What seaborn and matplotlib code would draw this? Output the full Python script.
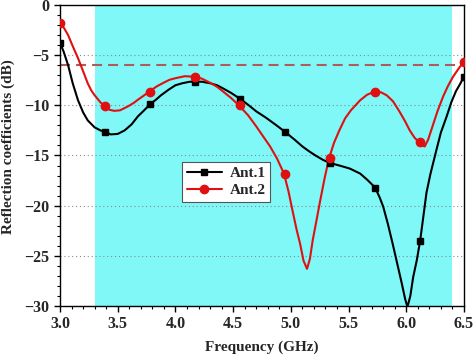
import matplotlib
matplotlib.use("Agg")
import matplotlib.pyplot as plt
from matplotlib.lines import Line2D
from matplotlib.ticker import MultipleLocator
import seaborn as sns

# curves (GHz, dB)
ant1_f = [3.0, 3.03, 3.07, 3.11, 3.156, 3.20, 3.24, 3.30, 3.35, 3.39, 3.44, 3.50,
          3.56, 3.62, 3.675, 3.72, 3.78, 3.83, 3.875, 3.94, 4.0, 4.06, 4.125, 4.17,
          4.23, 4.30, 4.36, 4.41, 4.48, 4.56, 4.63, 4.70, 4.78, 4.87, 4.95, 5.03,
          5.10, 5.16, 5.22, 5.28, 5.34, 5.42, 5.51, 5.60, 5.66, 5.73, 5.77, 5.80,
          5.84, 5.88, 5.92, 5.96, 5.99, 6.01, 6.035, 6.06, 6.09, 6.12, 6.15, 6.175,
          6.21, 6.26, 6.30, 6.35, 6.39, 6.43, 6.47, 6.5]
ant1_db = [-3.8, -4.6, -6.0, -7.8, -9.5, -10.7, -11.5, -12.2, -12.5, -12.66, -12.9, -12.85,
           -12.5, -11.9, -11.1, -10.6, -9.9, -9.45, -9.0, -8.45, -8.0, -7.8, -7.65, -7.65,
           -7.65, -7.8, -8.0, -8.3, -8.75, -9.35, -9.95, -10.6, -11.2, -11.95, -12.65, -13.4,
           -14.1, -14.6, -15.05, -15.45, -15.75, -16.0, -16.3, -16.8, -17.4, -18.2, -19.2, -20.1,
           -21.8, -23.7, -25.7, -27.7, -29.3, -30.1, -29.0, -27.1, -25.5, -23.5, -20.9, -18.7,
           -16.8, -14.5, -12.7, -11.1, -9.7, -8.6, -7.8, -7.1]

ant2_f = [3.0, 3.035, 3.07, 3.11, 3.156, 3.20, 3.24, 3.27, 3.30, 3.35, 3.39, 3.43,
          3.47, 3.52, 3.59, 3.64, 3.68, 3.73, 3.77, 3.84, 3.906, 3.95, 4.0, 4.08,
          4.17, 4.23, 4.30, 4.36, 4.41, 4.48, 4.55, 4.63, 4.70, 4.76, 4.82, 4.88,
          4.94, 4.98, 5.02, 5.05, 5.08, 5.11, 5.14, 5.165, 5.19, 5.22, 5.25, 5.29,
          5.33, 5.375, 5.42, 5.47, 5.52, 5.60, 5.66, 5.72, 5.78, 5.83, 5.885, 5.94,
          5.99, 6.03, 6.07, 6.11, 6.135, 6.16, 6.19, 6.23, 6.27, 6.32, 6.36, 6.405,
          6.45, 6.5]
ant2_db = [-1.8, -2.3, -3.0, -4.1, -5.3, -6.6, -7.8, -8.5, -9.0, -9.7, -10.1, -10.45,
           -10.55, -10.5, -10.1, -9.75, -9.4, -9.0, -8.65, -8.1, -7.7, -7.45, -7.3, -7.1,
           -7.15, -7.35, -7.75, -8.15, -8.6, -9.25, -10.0, -11.0, -12.1, -13.1, -14.1, -15.3,
           -16.8, -18.6, -20.8, -22.4, -23.8, -25.5, -26.3, -25.3, -23.4, -21.6, -19.75, -17.4,
           -15.3, -13.7, -12.5, -11.3, -10.5, -9.5, -8.95, -8.65, -8.7, -9.0, -9.6, -10.6,
           -11.6, -12.5, -13.2, -13.7, -14.0, -14.1, -13.4, -12.0, -10.6, -9.1, -8.1, -7.15,
           -6.4, -5.6]

# marker points
mark_f = [3.0, 3.39, 3.78, 4.17, 4.56, 4.95, 5.34, 5.73, 6.12, 6.5]
ant1_mark = [-3.8, -12.65, -9.9, -7.65, -9.35, -12.65, -15.75, -18.2, -23.5, -7.2]
ant2_mark = [-1.8, -10.1, -8.65, -7.15, -10.0, -16.8, -15.3, -8.65, -13.7, -5.7]

band = (3.3, 6.4)
threshold = -6

sns.set_style("ticks")
plt.rcParams['font.family'] = ['Liberation Serif', 'DejaVu Serif']
plt.rcParams['font.weight'] = 'bold'

fig = plt.figure(figsize=(4.74, 3.58), dpi=100)
ax = fig.add_axes([0.1266, 0.1453, 0.8523, 0.8408])

ax.axvspan(band[0], band[1], color='#80f8f8', lw=0, zorder=0.1)
ax.set_axisbelow(True)
ax.yaxis.grid(True, linestyle=(0, (1, 2.5)), color='#8a8a8a', lw=0.8)

ax.axhline(threshold, color='#b05a5a', lw=1.5, dashes=(4.8, 2.9), zorder=2)

sns.lineplot(x=ant1_f, y=ant1_db, color='black', lw=1.5, ax=ax, zorder=3)
sns.lineplot(x=ant2_f, y=ant2_db, color='#e01010', lw=1.5, ax=ax, zorder=4)
ax.plot(mark_f, ant1_mark, ls='none', marker='s', ms=5, color='black', zorder=5)
ax.plot(mark_f, ant2_mark, ls='none', marker='o', ms=6, color='#e01010', zorder=6)

ax.set_xlim(3.0, 6.5)
ax.set_ylim(-30, 0)
ax.xaxis.set_major_locator(MultipleLocator(0.5))
ax.xaxis.set_minor_locator(MultipleLocator(0.1))
ax.yaxis.set_major_locator(MultipleLocator(5))
ax.yaxis.set_minor_locator(MultipleLocator(1))
ax.tick_params(which='major', length=4, width=1, labelsize=11.5, direction='out', color='black')
ax.tick_params(which='minor', length=2.5, width=0.8, direction='out', color='black')
for s in ax.spines.values():
    s.set_color('black')
    s.set_linewidth(1.0)
for lab in ax.get_xticklabels() + ax.get_yticklabels():
    lab.set_fontweight('bold')

ax.set_xlabel('Frequency (GHz)', fontsize=11, fontweight='bold')
ax.set_ylabel('Reflection coefficients (dB)', fontsize=11, fontweight='bold')
ax.xaxis.set_label_coords(0.5, -0.115)
ax.yaxis.set_label_coords(-0.112, 0.53)

handles = [Line2D([], [], color='black', lw=1.5, marker='s', ms=5),
           Line2D([], [], color='#e01010', lw=1.5, marker='o', ms=6)]
leg = ax.legend(handles, ['Ant.1', 'Ant.2'], loc='upper left', bbox_to_anchor=(0.302, 0.478),
                borderaxespad=0, fancybox=False, framealpha=1, edgecolor='#555555',
                prop={'size': 11, 'weight': 'bold'}, handlelength=2.3, labelspacing=0.2,
                borderpad=0.3, handletextpad=0.5)
leg.get_frame().set_linewidth(0.8)

fig.savefig('out.png', dpi=100)
